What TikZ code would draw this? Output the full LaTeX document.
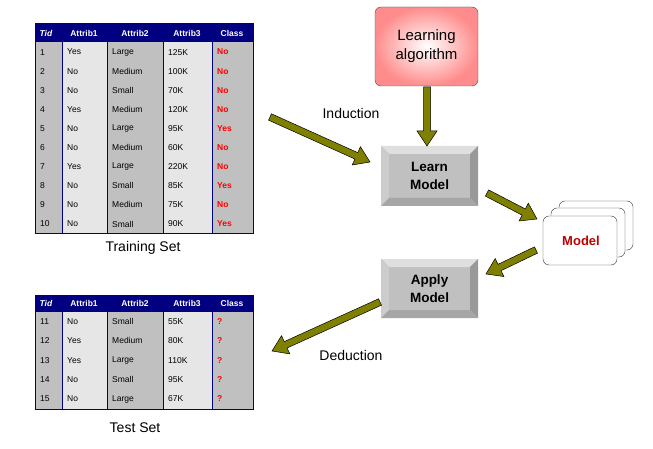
\documentclass[tikz,border=0pt]{standalone}
\usepackage{fontspec}
\setmainfont{Liberation Sans}
\usetikzlibrary{calc,shadings}
\definecolor{navy}{HTML}{000080}
\definecolor{olv}{HTML}{808000}
\definecolor{gcol}{HTML}{C0C0C0}
\definecolor{lcol}{HTML}{E6E6E6}
\newcommand{\blockarrow}[2]{%
  \coordinate (nk) at ($(#2)!15pt!(#1)$);
  \fill[olv,draw=black,line width=0.5pt] ($(#1)!3.5pt!90:(#2)$) -- ($(nk)!3.5pt!-90:(#1)$) -- ($(nk)!10pt!-90:(#1)$) -- (#2) -- ($(nk)!10pt!90:(#1)$) -- ($(nk)!3.5pt!90:(#1)$) -- ($(#1)!3.5pt!-90:(#2)$) -- cycle;}
\newcommand{\bevelbox}[5]{% x1 y1 x2 y2 name
  \fill[gcol] (#1,#2) rectangle (#3,#4);
  \fill[gray!25] (#1,#2) -- (#3,#2) -- (#3-8,#2+8) -- (#1+8,#2+8) -- cycle;
  \fill[gray!40] (#1,#2) -- (#1+8,#2+8) -- (#1+8,#4-8) -- (#1,#4) -- cycle;
  \fill[gray!100!black!80] (#3,#2) -- (#3,#4) -- (#3-8,#4-8) -- (#3-8,#2+8) -- cycle;
  \fill[gray!70] (#1,#4) -- (#3,#4) -- (#3-8,#4-8) -- (#1+8,#4-8) -- cycle;
  \coordinate (#5) at ({(#1+#3)/2},{(#2+#4)/2});}
\tikzset{cell/.style={anchor=west,inner sep=0pt,font=\fontsize{8.5}{9}\selectfont},
  hd/.style={anchor=center,inner sep=0pt,text=white,font=\fontsize{8.5}{9}\selectfont\bfseries},
  lbl/.style={font=\fontsize{14}{16}\selectfont},
  redc/.style={cell,text=red,font=\fontsize{8.5}{9}\selectfont\bfseries}}
\begin{document}
\begin{tikzpicture}[x=1pt,y=-1pt]
\useasboundingbox (0,0) rectangle (653,449);
% ---------- training table
\foreach \xa/\xb/\c in {35/62/gcol,62/107/lcol,107/163/gcol,163/212/lcol,212/253/gcol}
  \fill[\c] (\xa,42) rectangle (\xb,233);
\fill[navy] (35,24) rectangle (253,42);
\foreach \xx in {62,107,163,212} \draw[navy,line width=0.8pt] (\xx,42) -- (\xx,233);
\draw[navy,line width=1pt] (35,24) rectangle (253,233);
\node[hd] (th0) at (46,33) {\itshape Tid};
\node[hd] (th1) at (84,33) {Attrib1};
\node[hd] (th2) at (135,33) {Attrib2};
\node[hd] (th3) at (187,33) {Attrib3};
\node[hd] (th4) at (232,33) {Class};
\foreach \i/\a/\b/\cc/\k [count=\n] in {1/Yes/Large/125K/No,2/No/Medium/100K/No,3/No/Small/70K/No,4/Yes/Medium/120K/No,5/No/Large/95K/Yes,6/No/Medium/60K/No,7/Yes/Large/220K/No,8/No/Small/85K/Yes,9/No/Medium/75K/No,10/No/Small/90K/Yes}{
  \node[cell] (tr\n a) at (40,{33+19.1*\n}) {\i};
  \node[cell] (tr\n b) at (67,{33+19.1*\n}) {\a};
  \node[cell] (tr\n c) at (112,{33+19.1*\n}) {\b};
  \node[cell] (tr\n d) at (168,{33+19.1*\n}) {\cc};
  \node[redc] (tr\n e) at (217,{33+19.1*\n}) {\k};}
\node[lbl] (trainlbl) at (143,248) {Training Set};
% ---------- test table
\foreach \xa/\xb/\c in {35/62/gcol,62/107/lcol,107/163/gcol,163/212/lcol,212/253/gcol}
  \fill[\c] (\xa,312) rectangle (\xb,409);
\fill[navy] (35,295) rectangle (253,312);
\foreach \xx in {62,107,163,212} \draw[navy,line width=0.8pt] (\xx,312) -- (\xx,409);
\draw[navy,line width=1pt] (35,295) rectangle (253,409);
\node[hd] (sh0) at (46,303.5) {\itshape Tid};
\node[hd] (sh1) at (84,303.5) {Attrib1};
\node[hd] (sh2) at (135,303.5) {Attrib2};
\node[hd] (sh3) at (187,303.5) {Attrib3};
\node[hd] (sh4) at (232,303.5) {Class};
\foreach \i/\a/\b/\cc [count=\n] in {11/No/Small/55K,12/Yes/Medium/80K,13/Yes/Large/110K,14/No/Small/95K,15/No/Large/67K}{
  \node[cell] (te\n a) at (40,{302+19.4*\n}) {\i};
  \node[cell] (te\n b) at (67,{302+19.4*\n}) {\a};
  \node[cell] (te\n c) at (112,{302+19.4*\n}) {\b};
  \node[cell] (te\n d) at (168,{302+19.4*\n}) {\cc};
  \node[redc] (te\n e) at (217,{302+19.4*\n}) {?};}
\node[lbl] (testlbl) at (135,428) {Test Set};
% ---------- learning algorithm
\shade[inner color=white,outer color=red!45,rounded corners=6pt,draw=black!70]
  (375,7) rectangle (478,86);
\node[align=center,font=\fontsize{15}{19}\selectfont] (alg) at (426.5,46.5) {Learning\\algorithm};
% ---------- bevel boxes
\bevelbox{381}{146}{478}{206}{learn}
\node[align=center,font=\fontsize{13.5}{18}\selectfont\bfseries] (learnt) at (learn) {Learn\\Model};
\bevelbox{381}{259}{478}{318}{apply}
\node[align=center,font=\fontsize{13.5}{18}\selectfont\bfseries] (applyt) at (apply) {Apply\\Model};
% ---------- model stack
\foreach \dx/\dy in {16/-15,8/-8,0/0}
  \draw[draw=black!80,fill=white,rounded corners=6pt] (543+\dx,216+\dy) rectangle (617+\dx,265+\dy);
\node[text=red!75!black,font=\fontsize{13}{15}\selectfont\bfseries] (model) at (581,240.5) {Model};
% ---------- labels
\node[lbl] (ind) at (351,113) {Induction};
\node[lbl] (ded) at (351,355) {Deduction};
% ---------- arrows
\coordinate (a1) at (270,117); \coordinate (b1) at (370,162);
\coordinate (a2) at (427,87); \coordinate (b2) at (427,146);
\coordinate (a3) at (487,193); \coordinate (b3) at (537,219);
\coordinate (a4) at (536,250); \coordinate (b4) at (486,274);
\coordinate (a5) at (380,302); \coordinate (b5) at (272,351);
\blockarrow{a1}{b1}
\blockarrow{a2}{b2}
\blockarrow{a3}{b3}
\blockarrow{a4}{b4}
\blockarrow{a5}{b5}
\end{tikzpicture}
\end{document}
